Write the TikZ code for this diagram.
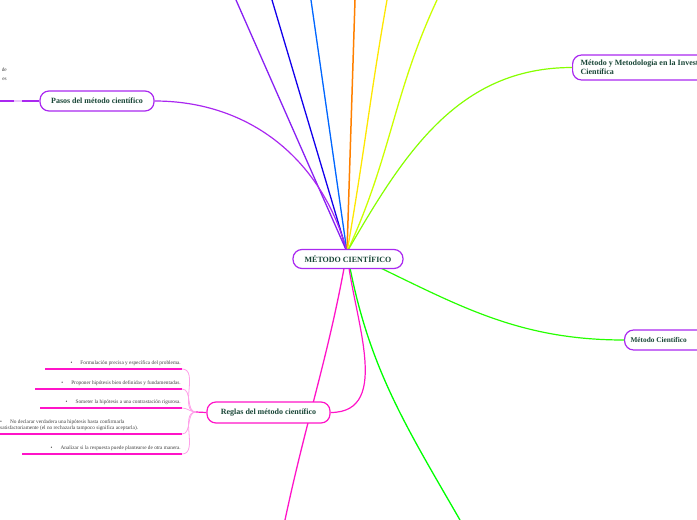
\documentclass[tikz,border=0pt]{standalone}
\usepackage{fontspec}
\setmainfont{Liberation Serif}
\definecolor{pur}{RGB}{170,40,240}
\definecolor{mag}{RGB}{255,20,200}
\definecolor{txt}{RGB}{25,70,55}
\begin{document}
\begin{tikzpicture}[x=1pt,y=-1pt,
 main/.style={draw=#1,line width=1.2pt,rounded corners=9pt,fill=white,font=\bfseries\fontsize{8}{9}\selectfont,text=txt,inner sep=0pt},
 sub/.style={font=\fontsize{5.3}{6.5}\selectfont,text=black!75,align=left,anchor=south east,inner sep=1pt},
 ul/.style={draw=mag,line width=1.2pt}]
\useasboundingbox (0,0) rectangle (697,520);
\clip (0,0) rectangle (697,520);
\coordinate (c) at (347,252);
\coordinate (t1) at (236,0); \coordinate (t2) at (272,0); \coordinate (t3) at (311,0);
\coordinate (t4) at (355,0); \coordinate (t5) at (387,0); \coordinate (t6) at (437,0);
\coordinate (b1) at (460,520); \coordinate (b2) at (285,520);
\draw[line width=1.3pt,pur!80!blue] (c) -- (t1);
\draw[line width=1.3pt,blue!85!violet] (c) -- (t2);
\draw[line width=1.3pt,blue!60!cyan] (c) -- (t3);
\draw[line width=1.5pt,orange] (c) -- (t4);
\draw[line width=1.3pt,yellow!90!orange] (c) to[out=80,in=-100] (t5);
\draw[line width=1.3pt,lime!80!yellow] (c) to[out=65,in=-115] (t6);
\draw[line width=1.3pt,green] (c) to[out=-80,in=120] (b1);
\draw[line width=1.3pt,mag] (c) to[out=-100,in=78] (b2);
\node[main=pur,minimum width=114pt,minimum height=20pt] (p) at (97,101) {Pasos del método científico};
\node[main=pur,minimum width=150pt,minimum height=25pt,align=left,anchor=west] (mm) at (572,67.5) {\hspace{8pt}Método y Metodología en la Investigación\\\hspace{8pt}Científica};
\node[main=pur,minimum height=20pt,anchor=west,font=\bfseries\fontsize{7.3}{9}\selectfont] (mc) at (624,340) {\hspace*{6pt}Método Científico\hspace*{30pt}};
\node[main=mag,minimum width=123pt,minimum height=21pt] (r) at (268.5,412.5) {Reglas del método científico};
\draw[line width=1.2pt,pur] (p.east) to[out=0,in=105] (c);
\draw[line width=1.2pt,lime!70!green] (mm.west) to[out=180,in=60] (c);
\draw[line width=1.2pt,green!80!lime] (mc.west) to[out=180,in=-25] (c);
\draw[line width=1.2pt,mag] (r.east) to[out=0,in=-85] (c);
\node[main=pur,minimum width=110pt,minimum height=19pt] (m) at (348,259) {MÉTODO CIENTÍFICO};
\draw[line width=1.5pt,pur] (p.west) -- (22,101);
\draw[line width=1.5pt,pur!25] (22,101) -- (14,101);
\draw[line width=1.5pt,pur] (14,101) -- (0,101);
\node[sub,anchor=east] (pa) at (8,70) {de};
\node[sub,anchor=east] (pb) at (8,79) {es};
\coordinate (rl) at (196,412);
\draw[line width=1.2pt,mag] (r.west) -- (rl);
\foreach \y/\x in {369/45,389/35,408/40,434/0,454/22}{
  \draw[ul] (\x,\y) -- (182,\y);
  \draw[mag!40,line width=0.8pt] (182,\y) to[out=0,in=180] (rl);
}
\node[sub] (s1) at (182,367) {•\hspace{8pt}Formulación precisa y específica del problema.};
\node[sub] (s2) at (182,387) {•\hspace{8pt}Proponer hipótesis bien definidas y fundamentadas.};
\node[sub] (s3) at (182,406) {•\hspace{8pt}Someter la hipótesis a una contrastación rigurosa.};
\node[sub,anchor=south west] (s4) at (-1,432) {•\hspace{8pt}No declarar verdadera una hipótesis hasta confirmarla\\satisfactoriamente (el no rechazarla tampoco significa aceptarla).};
\node[sub] (s5) at (182,452) {•\hspace{8pt}Analizar si la respuesta puede plantearse de otra manera.};
\end{tikzpicture}
\end{document}
